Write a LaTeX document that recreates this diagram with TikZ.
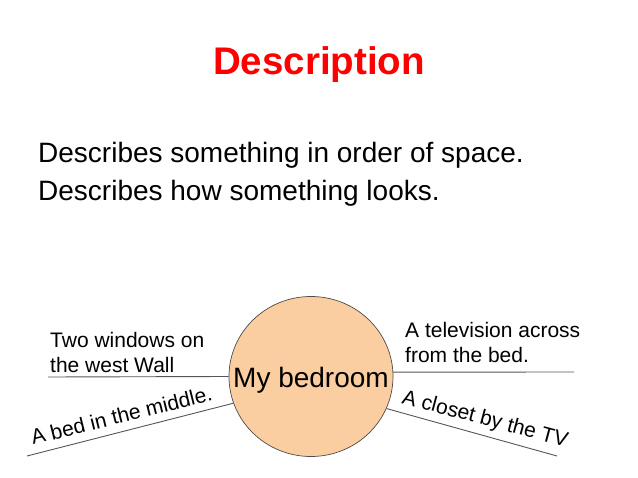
\documentclass[tikz,border=0pt]{standalone}
\usepackage{fontspec}
\setmainfont{Liberation Sans}
\usepackage{tikz}
\usetikzlibrary{shapes.geometric}
\definecolor{peach}{HTML}{FACEA0}
\definecolor{linegray}{HTML}{555555}

\begin{document}
\begin{tikzpicture}[x=1pt, y=-1pt, every node/.style={inner sep=0pt},
    body/.style={font=\fontsize{28}{38}\selectfont, anchor=base west},
    note/.style={font=\fontsize{21}{25}\selectfont, anchor=base west, align=left},
    link/.style={draw=linegray, line width=0.9pt}]
            \useasboundingbox (0, 0) rectangle (638, 478);
            \draw (319, 75) node[anchor=base, text=red, font=\fontsize{38.5}{44}\selectfont\bfseries](title){Description};
            \draw (38, 163) node[body](space){Describes something in order of space.};
            \draw (38, 201) node[body](looks){Describes how something looks.};
            \draw (311, 376.5) node[ellipse, draw=black!70, line width=0.7pt, fill=peach, minimum width=164pt, minimum height=160pt](room){};
            \draw (311, 388) node[anchor=base, font=\fontsize{28}{32}\selectfont](name){My bedroom};
            \draw (50, 373) node[note](windows){Two windows on\\the west Wall};
            \draw (405, 363) node[note](tv){A television across\\from the bed.};
            \draw (33, 445) node[note, rotate=14](bed){A bed in the middle.};
            \draw (401, 403) node[note, rotate=-15](closet){A closet by the TV};
            \coordinate (wl) at (48, 377);
            \coordinate (tr) at (574, 372);
            \coordinate (bl) at (27, 456);
            \coordinate (br) at (557, 456);
            \draw[link] (wl) -- (room.west);
            \draw[link] (room.3) -- (tr);
            \draw[link] (bl) -- (room.199);
            \draw[link] (room.337) -- (br);
        \end{tikzpicture}
\end{document}
